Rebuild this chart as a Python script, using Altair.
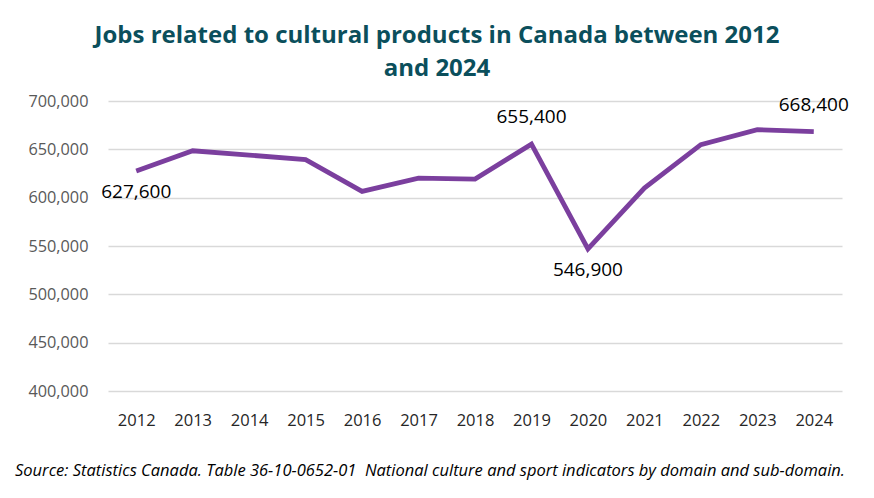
import altair as alt
import pandas as pd

years = ["2012", "2013", "2014", "2015", "2016", "2017", "2018",
         "2019", "2020", "2021", "2022", "2023", "2024"]
jobs = [627600, 648500, 644000, 639400, 606500, 620300, 619200,
        655400, 546900, 610000, 654800, 670300, 668400]

label_years = ["2012", "2019", "2020", "2024"]
label_pos = ["below", "above", "below", "above"]

df = pd.DataFrame({"year": years, "jobs": jobs})
lab = df[df["year"].isin(label_years)].copy()
lab["pos"] = label_pos
lab["text"] = lab["jobs"].map(lambda v: f"{v:,}")

FONT = "Open Sans"

x = alt.X("year:O", sort=years, title=None,
          scale=alt.Scale(type="point", padding=0.5),
          axis=alt.Axis(labelAngle=0, labelFont=FONT, labelFontSize=16.5,
                        labelColor="#262626", labelPadding=21, ticks=False,
                        domain=False, grid=False))
y = alt.Y("jobs:Q", title=None,
          scale=alt.Scale(domain=[400000, 700000], nice=False, zero=False),
          axis=alt.Axis(values=[400000, 450000, 500000, 550000, 600000, 650000, 700000],
                        format=",.0f", labelFont=FONT, labelFontSize=16.3,
                        labelColor="#595959", labelPadding=20, ticks=False,
                        domain=False, grid=True, gridColor="#d9d9d9",
                        gridWidth=1.5))

line = alt.Chart(df).mark_line(color="#7B3F9E", strokeWidth=4.8,
                               strokeCap="butt", strokeJoin="miter").encode(x=x, y=y)

above = alt.Chart(lab[lab["pos"] == "above"]).mark_text(
    font=FONT, fontSize=19, color="#000000", dy=-27).encode(
    x=alt.X("year:O", sort=years), y="jobs:Q", text="text:N")
below = alt.Chart(lab[lab["pos"] == "below"]).mark_text(
    font=FONT, fontSize=19, color="#000000", dy=21).encode(
    x=alt.X("year:O", sort=years), y="jobs:Q", text="text:N")

source_text = ["Source: Statistics Canada. Table 36-10-0652-01\u00a0 National culture and sport indicators by domain and sub-domain."]
source = alt.Chart(pd.DataFrame({"t": source_text})).mark_text(
    font=FONT, fontSize=16.5, fontStyle="italic", color="#000000",
    align="left", baseline="middle").encode(
    x=alt.value(-93), y=alt.value(370), text="t:N")

chart = alt.layer(line, above, below, source).properties(
    width=734, height=290,
    padding={"left": 108, "top": 101, "right": 32, "bottom": 107},
    autosize=alt.AutoSizeParams(type="none"),
    title=alt.TitleParams(
        text=["Jobs related to cultural products in Canada between 2012", "and 2024"],
        font=FONT, fontSize=24, fontWeight="bold", color="#0B4F5C",
        anchor="middle", frame="group", dx=-38, offset=12, lineHeight=33),
).configure_view(stroke=None)

chart.save("out.html", embed_options={"renderer": "svg", "actions": False})
